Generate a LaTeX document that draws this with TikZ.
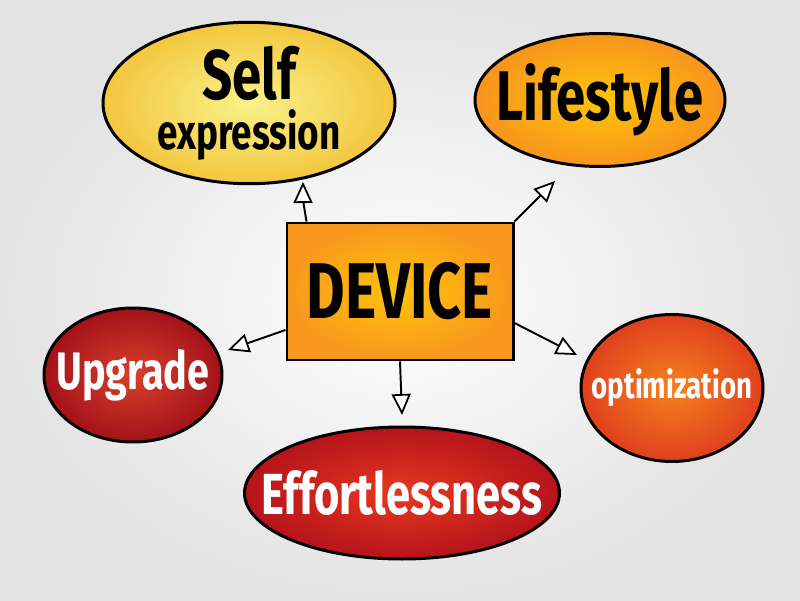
\documentclass[tikz,border=0pt]{standalone}
\usepackage{fontspec}
\setmainfont{Fira Sans}
\usetikzlibrary{shapes.geometric, arrows.meta}

\definecolor{selfin}{HTML}{F8F28A}
\definecolor{selfout}{HTML}{F4C63E}
\definecolor{lifein}{HTML}{FFC60B}
\definecolor{lifeout}{HTML}{F7941D}
\definecolor{devin}{HTML}{FFC20E}
\definecolor{devout}{HTML}{F8981D}
\definecolor{upin}{HTML}{D8402A}
\definecolor{upout}{HTML}{A3121A}
\definecolor{optin}{HTML}{F58220}
\definecolor{optout}{HTML}{E0401C}
\definecolor{effin}{HTML}{E8381F}
\definecolor{effout}{HTML}{B5141B}

% squeezed text that does not widen its bubble
\newcommand{\narrow}[2]{\makebox[0pt]{\scalebox{0.75}[1]{\fontsize{#1}{#1}\selectfont #2}}}

\tikzset{
  bubble/.style={ellipse, draw=black, line width=1.7pt, inner sep=0pt, font=\bfseries},
  arr/.style={line width=1.1pt, -{Triangle[length=4.2mm, width=3.8mm, fill=white, line width=1pt]}}
}

\begin{document}
\begin{tikzpicture}
\useasboundingbox (0,0) rectangle (16,12);
\shade[inner color=white, outer color=black!11] (0,0) rectangle (16,12);

% centre
\node[draw=black, line width=1.7pt, rectangle, minimum width=4.52cm, minimum height=2.74cm,
  inner color=devin, outer color=devout, font=\bfseries] (device) at (8.0,6.17)
  {\narrow{45}{DEVICE}};

% ideas
\node[bubble, minimum width=5.84cm, minimum height=2.84cm, inner color=selfin, outer color=selfout,
  align=center] (self) at (4.98,9.94)
  {\narrow{40}{Self}\\[4pt]\narrow{28}{expression}};
\node[bubble, minimum width=5.0cm, minimum height=2.66cm, inner color=lifein, outer color=lifeout]
  (life) at (12.0,10.0) {\narrow{40}{Lifestyle}};
\node[bubble, minimum width=3.56cm, minimum height=2.68cm, inner color=upin, outer color=upout,
  text=white] (upgrade) at (2.66,4.5) {\narrow{30}{Upgrade}};
\node[bubble, minimum width=3.64cm, minimum height=2.94cm, inner color=optin, outer color=optout,
  text=white] (optim) at (13.44,4.24) {\narrow{21}{optimization}};
\node[bubble, minimum width=6.3cm, minimum height=2.64cm, inner color=effin, outer color=effout,
  text=white] (effort) at (8.04,2.14) {\narrow{33}{Effortlessness}};

% arrow ends
\coordinate (tipself) at (6.06,8.36);
\coordinate (tiplife) at (11.1,8.38);
\coordinate (tipup) at (4.56,5.0);
\coordinate (tipopt) at (11.54,4.9);
\coordinate (tipeff) at (8.04,3.7);

\draw[arr] ([xshift=0.42cm]device.north west) to[bend left=5] (tipself);
\draw[arr] (device.north east) -- (tiplife);
\draw[arr] ([yshift=-0.77cm]device.west) -- (tipup);
\draw[arr] ([yshift=-0.63cm]device.east) -- (tipopt);
\draw[arr] (device.south) -- (tipeff);
\end{tikzpicture}
\end{document}
